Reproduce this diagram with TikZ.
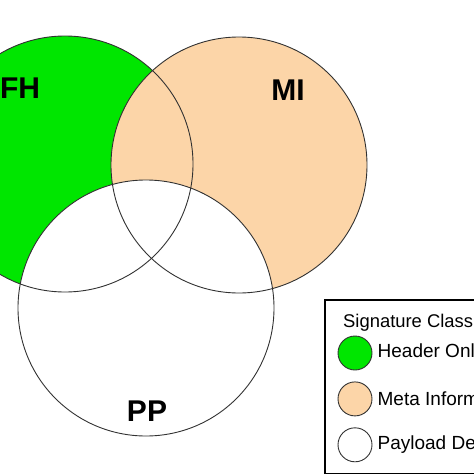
\documentclass[tikz,border=0pt]{standalone}
\usepackage{fontspec}
\setmainfont{Liberation Sans}
\usetikzlibrary{positioning}
\definecolor{fhcol}{RGB}{0,230,0}
\definecolor{micol}{RGB}{252,213,168}
\definecolor{rimcol}{RGB}{50,50,50}

\begin{document}
\begin{tikzpicture}[x=1pt,y=-1pt,
   node distance=11pt and 3pt,
   set/.style={circle,minimum size=256pt,inner sep=0pt},
   rim/.style={draw=rimcol,line width=0.9pt},
   lab/.style={font=\bfseries\fontsize{30}{30}\selectfont},
   key/.style={circle,draw=rimcol,line width=0.9pt,minimum size=34pt,inner sep=0pt},
   keytext/.style={font=\fontsize{19}{19}\selectfont,inner sep=2pt}]
  \useasboundingbox (0,0) rectangle (474,474);
  \clip (0,0) rectangle (474,474);
  % the three sets
  \node[set,fill=fhcol] (fh) at (65,164) {};
  \node[set,fill=micol] (mi) at (239,165) {};
  \node[set,fill=white] (pp) at (146,308) {};
  \foreach \s in {fh,mi,pp}
    \draw[rim] (\s.center) circle[radius=128];
  \node[lab] (fhlab) at (20,88) {FH};
  \node[lab] (milab) at (288,90) {MI};
  \node[lab] (pplab) at (147,411) {PP};

  % legend
  \node[draw,line width=1.5pt,anchor=north west,minimum width=200pt,
        minimum height=174pt] (legend) at (324,299) {};
  \node[keytext,anchor=west,font=\fontsize{18.4}{18.4}\selectfont] (title)
        at (341,323) {Signature Class};
  \node[key,fill=fhcol] (kfh) at (355,353) {};
  \node[key,fill=micol,below=of kfh] (kmi) {};
  \node[key,fill=white,below=of kmi] (kpp) {};
  \node[keytext,right=of kfh] (tfh) {Header Only};
  \node[keytext,right=of kmi] (tmi) {Meta Information};
  \node[keytext,right=of kpp] (tpp) {Payload Dependent};
\end{tikzpicture}
\end{document}
